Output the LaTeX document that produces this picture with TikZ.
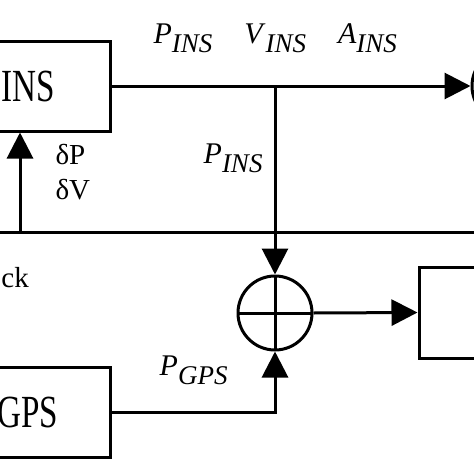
\documentclass[tikz,border=0pt]{standalone}
\usepackage{fontspec}
\setmainfont{Liberation Serif}
\usetikzlibrary{arrows.meta}
\newcommand{\narrowtext}[1]{\scalebox{0.72}[1]{#1}}
\newcommand{\sigsym}[2]{\textit{#1}\raisebox{-9pt}{\fontsize{27}{28}\selectfont\textit{#2}}}

\tikzset{
  block/.style={draw, minimum width=164pt, minimum height=90pt, inner sep=0pt,
    font=\fontsize{46}{50}\selectfont},
  sumnode/.style={circle, draw, minimum size=74pt, inner sep=0pt,
    path picture={\draw (path picture bounding box.north) -- (path picture bounding box.south)
      (path picture bounding box.west) -- (path picture bounding box.east);}},
  lbl/.style={font=\fontsize{30}{32}\selectfont, inner sep=0pt}
}

\begin{document}
\begin{tikzpicture}[x=1pt, y=-1pt, line width=3pt, >={Triangle[length=26pt,width=26pt]}]
  \useasboundingbox (0,0) rectangle (474,474);
  \clip (0,0) rectangle (474,474);

  % Nodes
  \node[block] (INS) at (28,86) {\narrowtext{INS}};
  \node[block] (GPS) at (28,412) {\narrowtext{GPS}};
  \node[block, minimum width=110pt, minimum height=91pt] (KF) at (474,312.5) {};
  \node[sumnode] (sum) at (275,313) {};
  \node[circle, draw, minimum size=74pt] (out) at (509,86) {};

  \coordinate (split) at (sum.north |- INS.east);
  \coordinate (fbR) at (480,232);
  \coordinate (fbL) at (-5,232);
  \coordinate (fbUp) at (20,232);

  % Paths
  \draw[->] (INS.east) -- (out.west);
  \draw[->] (split) -- (sum.north);
  \draw[->] (GPS.east) -| (sum.south);
  \draw[->] (sum.east) -- (KF.west);
  \draw (fbR) -- (fbL);
  \draw[->] (fbUp) -- (fbUp |- INS.south);

  % Labels
  \node[lbl, anchor=base west] (lblTop) at (152,43)
    {\sigsym{P}{INS}\hspace{32pt}\sigsym{V}{INS}\hspace{32pt}\sigsym{A}{INS}};
  \node[lbl, anchor=base east] (lblP) at (264,163) {\sigsym{P}{INS}};
  \node[lbl, anchor=base east] (lblGPS) at (229,375) {\sigsym{P}{GPS}};
  \node[lbl, anchor=north west, align=left, font=\fontsize{29}{35}\selectfont] (lblDelta) at (54,143) {δP\\δV};
  \node[lbl, anchor=base west, font=\fontsize{29}{32}\selectfont] (lblFb) at (0,287) {ck};
\end{tikzpicture}
\end{document}
